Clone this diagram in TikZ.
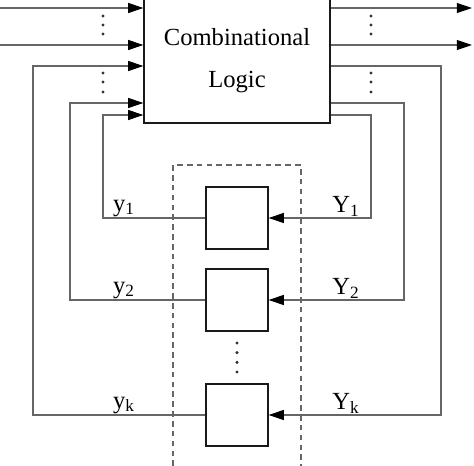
\documentclass[tikz,border=0pt]{standalone}
\usepackage{fontspec}
\setmainfont{Liberation Serif}
\usetikzlibrary{arrows.meta}
\tikzset{
  block/.style={draw=black!90,line width=0.9pt,minimum size=1.55cm,inner sep=0pt},
  wire/.style={draw=black!60,line width=0.75pt},
  tip/.style={-{Triangle[length=0.38cm,width=0.25cm,color=black]}},
  dot/.style={fill=black!80,circle,inner sep=0pt,minimum size=2.4pt}
}
\begin{document}
\begin{tikzpicture}[font=\fontsize{17.5}{30}\selectfont]
    \useasboundingbox (0,0) rectangle (11.85,11.65);
    \node[block,minimum width=4.65cm,minimum height=3.3cm] (logic) at (5.925,10.225) {};
    \node[align=center] (logictext) at (5.925,10.13) {Combinational\\Logic};
    \coordinate (in1) at (0,11.45);
    \coordinate (in2) at (0,10.525);
    \coordinate (out1) at (11.8,11.45);
    \coordinate (out2) at (11.8,10.525);
    \draw[wire,tip] (in1) -- (logic.west |- in1);
    \draw[wire,tip] (in2) -- (logic.west |- in2);
    \draw[wire,tip] (logic.east |- out1) -- (out1);
    \draw[wire,tip] (logic.east |- out2) -- (out2);
    \foreach \i/\y/\xl/\xr/\yl in {1/6.2/2.575/9.275/8.775, 2/4.15/1.75/10.1/9.075, k/1.275/0.825/11.025/10.0} {
        \node[block] (reg\i) at (5.925,\y) {};
        \draw[wire,tip] (reg\i.west) -| (\xl,\yl) -- (logic.west |- 0,\yl);
        \draw[wire,tip] (logic.east |- 0,\yl) -| (\xr,\y) -- (reg\i.east);
        \node[above,inner sep=1pt] (ly\i) at (3.1,\y) {y\textsubscript{\i}};
        \node[above,inner sep=1pt] (lY\i) at (8.65,\y) {Y\textsubscript{\i}};
    }
    \draw[wire,dashed,dash pattern=on 4pt off 3pt] (4.325,0) |- (7.525,7.525) -- (7.525,0);
    \foreach \x in {2.575,9.275} {
        \foreach \y in {11.25,11.025,10.8,9.825,9.6,9.35}
            \node[dot] at (\x,\y) {};
    }
    \foreach \y in {3.075,2.835,2.59,2.35}
        \node[dot] at (5.925,\y) {};
\end{tikzpicture}
\end{document}
